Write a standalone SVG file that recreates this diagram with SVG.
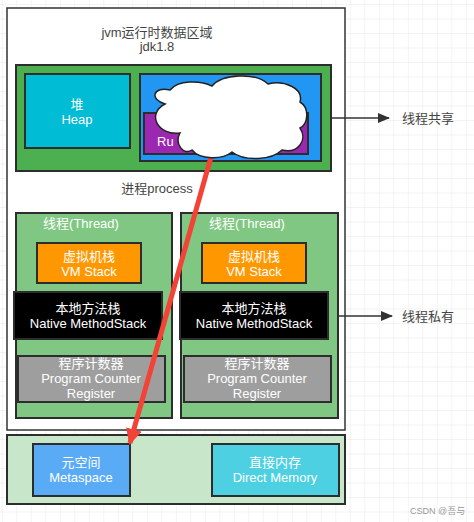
<svg xmlns="http://www.w3.org/2000/svg" width="474" height="522" viewBox="0 0 474 522">
<defs>
<pattern id="grid" x="1.8" y="4" width="14.5" height="14.5" patternUnits="userSpaceOnUse">
<path d="M14.5 0 L0 0 0 14.5" fill="none" stroke="#e8e8e8" stroke-width="1"/>
</pattern>
<marker id="ah" markerWidth="12" markerHeight="10" refX="11" refY="5" orient="auto" markerUnits="userSpaceOnUse">
<path d="M0,0 L12,5 L0,10 Z" fill="#333"/>
</marker>
<marker id="rh" markerWidth="16" markerHeight="16" refX="14" refY="8" orient="auto" markerUnits="userSpaceOnUse">
<path d="M0,0 L16,8 L0,16 Z" fill="#f44336"/>
</marker>
</defs>
<style>
.box{stroke:#2d2d2d;stroke-width:2}
.t{font-family:"Liberation Sans","Noto Sans CJK SC",sans-serif;font-size:13px;text-anchor:middle}
.w{fill:#fff}
.d{fill:#444}
.lbl{font-family:"Liberation Sans","Noto Sans CJK SC",sans-serif;font-size:13px;fill:#444}
</style>
<rect width="474" height="522" fill="#fff"/>
<rect width="474" height="522" fill="url(#grid)"/>

<g id="runtime">
<rect x="7" y="8" width="338" height="422" fill="#fff" stroke="#333" stroke-width="1.5"/>
<text class="t d" x="157" y="37">jvm运行时数据区域</text>
<text class="t d" x="157" y="51">jdk1.8</text>
<text class="t d" x="157" y="193">进程process</text>
</g>

<g id="shared">
<rect class="box" x="16" y="65" width="315" height="106" fill="#4caf50"/>
</g>
<g id="heap">
<rect class="box" x="25" y="74" width="105" height="74" fill="#00bcd4"/>
<text class="t w" x="77" y="109">堆</text>
<text class="t w" x="77" y="124">Heap</text>
</g>
<g id="method-area">
<rect class="box" x="140" y="74" width="181" height="87" fill="#2196f3"/>
<rect class="box" x="144" y="113" width="164" height="41" fill="#9c27b0"/>
<text class="w" x="157" y="146" font-family="Liberation Sans,Noto Sans CJK SC,sans-serif" font-size="13">Ru</text>
</g>

<g id="thread-left">
<rect class="box" x="16" y="213" width="156" height="205" fill="#81c784"/>
<text class="t w" x="81" y="228">线程(Thread)</text>
<rect class="box" x="37" y="243" width="104" height="40" fill="#ff9800"/>
<text class="t w" x="89" y="261">虚拟机栈</text>
<text class="t w" x="89" y="276">VM Stack</text>
<rect class="box" x="14" y="292" width="148" height="47" fill="#000"/>
<text class="t w" x="88" y="313">本地方法栈</text>
<text class="t w" x="88" y="328">Native MethodStack</text>
<rect class="box" x="18" y="356" width="147" height="46" fill="#9e9e9e"/>
<text class="t w" x="91" y="368">程序计数器</text>
<text class="t w" x="91" y="383">Program Counter</text>
<text class="t w" x="91" y="398">Register</text>
</g>

<g id="thread-right">
<rect class="box" x="181" y="213" width="157" height="205" fill="#81c784"/>
<text class="t w" x="247" y="228">线程(Thread)</text>
<rect class="box" x="202" y="243" width="104" height="40" fill="#ff9800"/>
<text class="t w" x="254" y="261">虚拟机栈</text>
<text class="t w" x="254" y="276">VM Stack</text>
<rect class="box" x="180" y="292" width="148" height="47" fill="#000"/>
<text class="t w" x="254" y="313">本地方法栈</text>
<text class="t w" x="254" y="328">Native MethodStack</text>
<rect class="box" x="184" y="356" width="147" height="46" fill="#9e9e9e"/>
<text class="t w" x="257" y="368">程序计数器</text>
<text class="t w" x="257" y="383">Program Counter</text>
<text class="t w" x="257" y="398">Register</text>
</g>

<g id="native-memory">
<rect class="box" x="7" y="435" width="338" height="69" fill="#c8e6c9"/>
</g>
<g id="metaspace">
<rect class="box" x="33" y="444" width="97" height="52" fill="#5aabf5"/>
<text class="t w" x="81" y="467">元空间</text>
<text class="t w" x="81" y="482">Metaspace</text>
</g>
<g id="direct-memory">
<rect class="box" x="212" y="444" width="127" height="52" fill="#4dd0e1"/>
<text class="t w" x="275" y="467">直接内存</text>
<text class="t w" x="275" y="482">Direct Memory</text>
</g>

<g id="connectors">
<line x1="331" y1="118" x2="389" y2="118" stroke="#333" stroke-width="1.5" marker-end="url(#ah)"/>
<line x1="338" y1="316" x2="392" y2="316" stroke="#333" stroke-width="1.5" marker-end="url(#ah)"/>
<line x1="213" y1="150" x2="130" y2="443" stroke="#f44336" stroke-width="5" marker-end="url(#rh)"/>
</g>

<g id="cloud">
<path d="M165,104 C150,100 152,86 170,90 C178,80 200,80 212,86 C222,74 255,72 268,84 C284,80 304,88 300,102 C310,108 308,124 300,128 C308,140 298,154 282,150 C272,160 245,162 232,152 C222,160 200,160 192,150 C184,156 174,144 180,133 C158,136 146,114 165,104 Z" fill="#fff" stroke="#222" stroke-width="1.5"/>
</g>

<g id="labels">
<text class="lbl" x="402" y="123">线程共享</text>
<text class="lbl" x="402" y="321">线程私有</text>
<text x="410" y="514" font-family="Liberation Sans,Noto Sans CJK SC,sans-serif" font-size="9" fill="#999">CSDN @吾与</text>
</g>
</svg>
